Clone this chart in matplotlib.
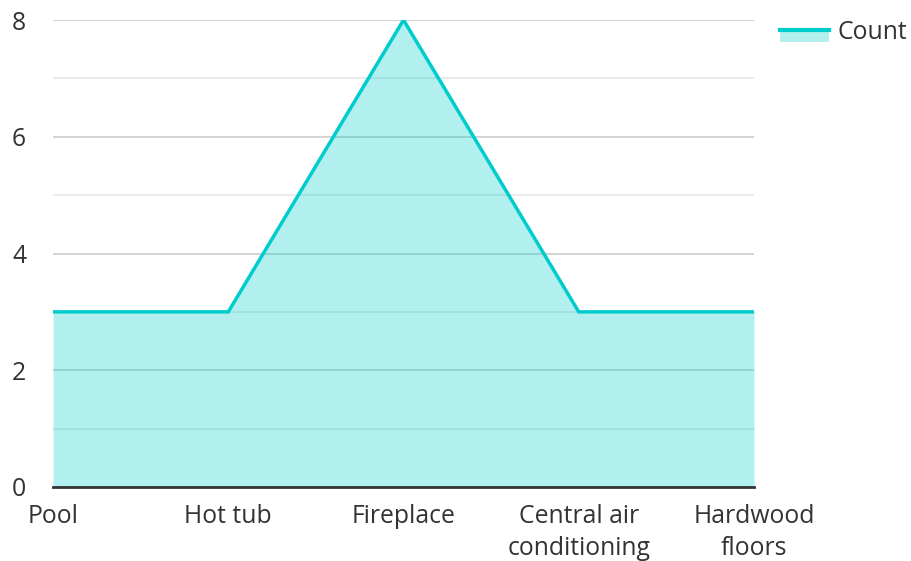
import numpy as np
import matplotlib.pyplot as plt
from matplotlib.lines import Line2D
from matplotlib.patches import Rectangle
from matplotlib.legend_handler import HandlerBase

plt.rcParams['font.family'] = ['Open Sans', 'DejaVu Sans']

categories = ['Pool', 'Hot tub', 'Fireplace', 'Central air\nconditioning', 'Hardwood\nfloors']
counts = [3, 3, 8, 3, 3]

LINE = '#00CCCC'
TEXT = '#333333'
FS = 17.8


class HandlerAreaLine(HandlerBase):
    # line on top of a filled band, like the area legend in the reference
    def create_artists(self, legend, orig, xd, yd, w, h, fontsize, trans):
        top = yd + h * 0.5
        bot = yd - h * 0.2
        r = Rectangle((xd, bot), w, top - bot,
                      facecolor=LINE, alpha=0.3, edgecolor='none', transform=trans)
        l = Line2D([xd, xd + w], [top, top], color=LINE, lw=3, transform=trans)
        return [r, l]


fig = plt.figure(figsize=(9.12, 5.61), dpi=100)
ax = fig.add_axes([53 / 912, 1 - 487 / 561, (754 - 53) / 912, (487 - 20) / 561])

x = np.arange(len(categories))
ax.fill_between(x, counts, 0, color=LINE, alpha=0.3, lw=0, zorder=2)
ax.plot(x, counts, color=LINE, lw=2.5, zorder=3, solid_joinstyle='miter')

ax.set_xlim(0, len(categories) - 1)
ax.set_ylim(0, 8)
ax.set_yticks([0, 2, 4, 6, 8])
ax.set_yticks([1, 3, 5, 7], minor=True)
ax.grid(which='major', axis='y', color='#cccccc', lw=1.2, zorder=1)
ax.grid(which='minor', axis='y', color='#e6e6e6', lw=1.2, zorder=1)
ax.set_axisbelow(True)

ax.set_xticks(x)
ax.set_xticklabels(categories, linespacing=1.35)
ax.tick_params(axis='both', which='both', length=0, labelsize=FS, colors=TEXT)
ax.tick_params(axis='x', pad=12.5)
ax.tick_params(axis='y', pad=29.5)
for lab in ax.get_yticklabels():
    lab.set_horizontalalignment('left')

for s in ['top', 'right', 'left']:
    ax.spines[s].set_visible(False)
ax.spines['bottom'].set_color(TEXT)
ax.spines['bottom'].set_linewidth(2)
ax.spines['bottom'].set_zorder(4)

handle = Line2D([], [])
fig.legend([handle], ['Count'], handler_map={Line2D: HandlerAreaLine()},
           loc='upper left', bbox_to_anchor=(780 / 912, 1 - 20 / 561),
           frameon=False, fontsize=FS, labelcolor=TEXT,
           handlelength=2.0, handletextpad=0.32, borderaxespad=0, borderpad=0)

fig.savefig('out.png', dpi=100, facecolor='white')
